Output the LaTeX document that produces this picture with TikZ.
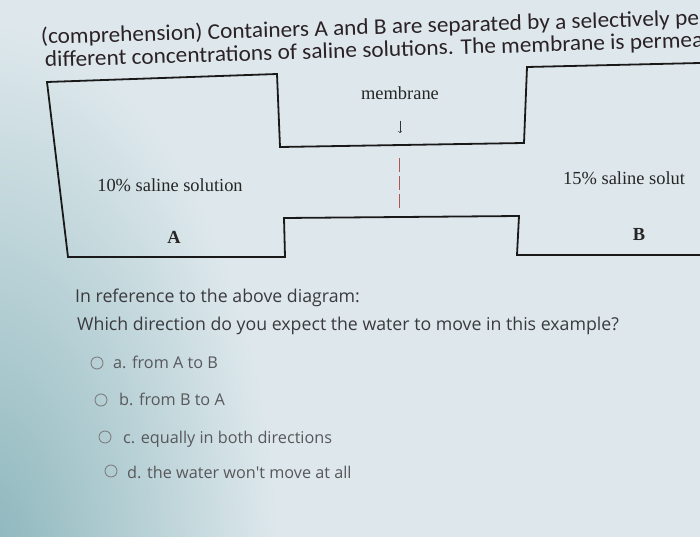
\documentclass[tikz,border=0pt]{standalone}
\usepackage{fontspec}
\setmainfont{Liberation Serif}
\newfontfamily\headfont[FakeStretch=1.04]{Carlito}
\newfontfamily\quizfont{Open Sans}
\usetikzlibrary{calc}

\definecolor{paper}{RGB}{222,232,236}
\definecolor{paperteal}{RGB}{136,180,186}
\definecolor{headink}{RGB}{42,34,38}
\definecolor{quizink}{RGB}{58,58,62}
\definecolor{optink}{RGB}{88,88,92}
\definecolor{membraneink}{RGB}{178,84,84}

\tikzset{
	wall/.style={line width=1.8bp, color=black!90, line join=miter},
	headtxt/.style={anchor=base west, inner sep=0pt, text=headink, font=\headfont\fontsize{22.5}{22.5}\selectfont},
	labeltxt/.style={inner sep=0pt, text=black!85, font=\fontsize{18.5}{18.5}\selectfont},
	quiztxt/.style={anchor=base west, inner sep=0pt, text=quizink, font=\quizfont\fontsize{17.8}{17.8}\selectfont},
	opttxt/.style={quiztxt, text=optink, font=\quizfont\fontsize{16.3}{16.3}\selectfont},
	radio/.style={circle, draw=black!50, line width=0.9bp, minimum size=12bp, inner sep=0pt},
	membraneline/.style={color=membraneink, line width=0.8bp, dash pattern=on 14bp off 4bp},
}

\begin{document}
\begin{tikzpicture}[x=1bp, y=-1bp]
			%%%%% START %%%%%
			
			% photographed screen
			\useasboundingbox (0, 0) rectangle (700, 537);
			\fill[paper] (0, 0) rectangle (700, 537);
			\begin{scope}
				\clip (0, 0) rectangle (700, 537);
				\shade[inner color=paperteal, outer color=paper] (-20, 580) ellipse (300 and 560);
			\end{scope}
			
			% question header
			\node[headtxt, rotate=1.65] (headone) at (41, 44) {(comprehension) Containers A and B are separated by a selectively pe};
			\node[headtxt, rotate=1.75] (headtwo) at (45, 67) {different concentrations of saline solutions. The membrane is permea};
			
			% containers A and B with the channel between them
			\draw[wall] (700, 63) -- (527, 67) -- (524, 143) -- (280, 147) -- (277, 74) -- (47, 82)
				-- (68, 257) -- (285, 257) -- (284, 218) -- (519, 216) -- (517, 255) -- (700, 255);
			
			% membrane
			\node[labeltxt] (membrane) at (400, 93) {membrane};
			\coordinate (memtip) at (400, 133);
			\draw[->, line width=0.6bp, color=black!80] ([yshift=-21bp]membrane.south) -- (memtip);
			\coordinate (memtop) at (399, 158);
			\coordinate (membottom) at (399, 208);
			\draw[membraneline] (memtop) -- (membottom);
			
			% solutions
			\node[labeltxt] (solA) at (170, 185) {10\% saline solution};
			\node[labeltxt, anchor=west] (solB) at (563, 178) {15\% saline solut};
			\node[labeltxt, font=\bfseries\fontsize{18.5}{18.5}\selectfont] (tagA) at (174, 237) {A};
			\node[labeltxt, font=\bfseries\fontsize{18.5}{18.5}\selectfont] (tagB) at (639, 234) {B};
			
			% question
			\node[quiztxt] (quizone) at (75, 302) {In reference to the above diagram:};
			\node[quiztxt] (quiztwo) at (77, 330) {Which direction do you expect the water to move in this example?};
			
			% answers
			\node[radio] (radioa) at (97, 363) {};
			\node[opttxt] (opta) at (113, 368) {a. from A to B};
			\node[radio] (radiob) at (101, 400) {};
			\node[opttxt] (optb) at (119, 405) {b. from B to A};
			\node[radio] (radioc) at (105, 437) {};
			\node[opttxt] (optc) at (123, 443) {c. equally in both directions};
			\node[radio] (radiod) at (111, 471) {};
			\node[opttxt] (optd) at (127, 478) {d. the water won't move at all};
			
			%%%%% END %%%%%
		\end{tikzpicture}
\end{document}
